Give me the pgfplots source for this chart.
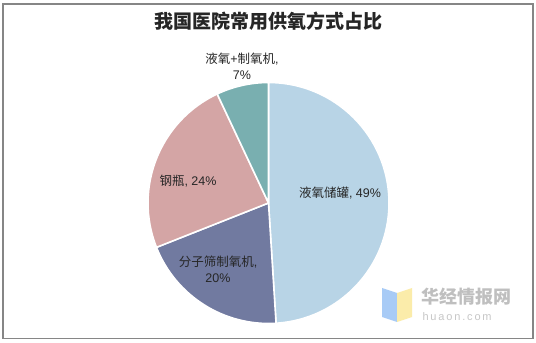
\documentclass[border=0pt]{standalone}
\usepackage{fontspec}
\usepackage{pgfplots}
\usepackage{pgfplotstable}
\pgfplotsset{compat=1.18}
\setmainfont{Liberation Sans}
\newfontfamily\cjk{Noto Sans CJK SC}
\definecolor{slice0}{HTML}{B8D4E6}
\definecolor{slice1}{HTML}{717AA0}
\definecolor{slice2}{HTML}{D4A5A5}
\definecolor{slice3}{HTML}{79AFB0}
\definecolor{txt}{HTML}{262626}
\definecolor{logoblue}{HTML}{A8CBF6}
\definecolor{logoyellow}{HTML}{FBECAA}
\pgfplotstableread{
val
49
20
24
7
}\piedata
\begin{document}
\begin{tikzpicture}
\begin{axis}[scale only axis, width=536pt, height=343pt,
  xmin=0, xmax=536, ymin=0, ymax=343, hide axis, clip=false]
\fill[white] (axis cs:0,0) rectangle (axis cs:536,343);
\draw[gray!95, line width=1.2pt] (axis cs:3,4.5) rectangle (axis cs:533,339);
\pgfplotsextra{%
  \pgfmathsetmacro\startang{90}%
  \global\let\startang\startang
  \pgfplotstableforeachcolumnelement{val}\of\piedata\as\v{%
    \pgfmathsetmacro\endang{\startang-3.6*\v}%
    \fill[slice\pgfplotstablerow, draw=white, line width=1.6pt, line join=round]
      (axis cs:268.5,140) -- ++(\startang:120.5pt)
      arc[start angle=\startang, end angle=\endang, radius=120.5pt] -- cycle;
    \global\let\startang\endang
  }%
}
\node[font=\cjk\bfseries\fontsize{19}{21}\selectfont, text=txt] at (axis cs:268,322) {我国医院常用供氧方式占比};
\node[font=\fontsize{12.5}{15}\selectfont, text=txt] at (axis cs:340,150) {\cjk 液氧储罐\normalfont, 49\%};
\node[font=\fontsize{12.5}{15}\selectfont, text=txt] at (axis cs:188,162) {\cjk 钢瓶\normalfont, 24\%};
\node[font=\fontsize{12.5}{16}\selectfont, text=txt, align=center] at (axis cs:218,74) {{\cjk 分子筛制氧机}, \\ 20\%};
\node[font=\fontsize{12.5}{16}\selectfont, text=txt, align=center] at (axis cs:242,277) {{\cjk 液氧}+{\cjk 制氧机}, \\ 7\%};
% watermark
\fill[logoblue] (axis cs:382,55) -- (axis cs:397,50) -- (axis cs:397,21) -- (axis cs:382,26) -- cycle;
\fill[logoyellow] (axis cs:397,50) -- (axis cs:412,55) -- (axis cs:412,26) -- (axis cs:397,21) -- cycle;
\node[font=\cjk\bfseries\fontsize{18}{20}\selectfont, text=black!25, anchor=west] at (axis cs:418,46) {华经情报网};
\node[font=\fontsize{11}{13}\selectfont, text=black!22, anchor=west] at (axis cs:419,26) {h\,u\,a\,o\,n\,.\,c\,o\,m};
\end{axis}
\end{tikzpicture}
\end{document}
